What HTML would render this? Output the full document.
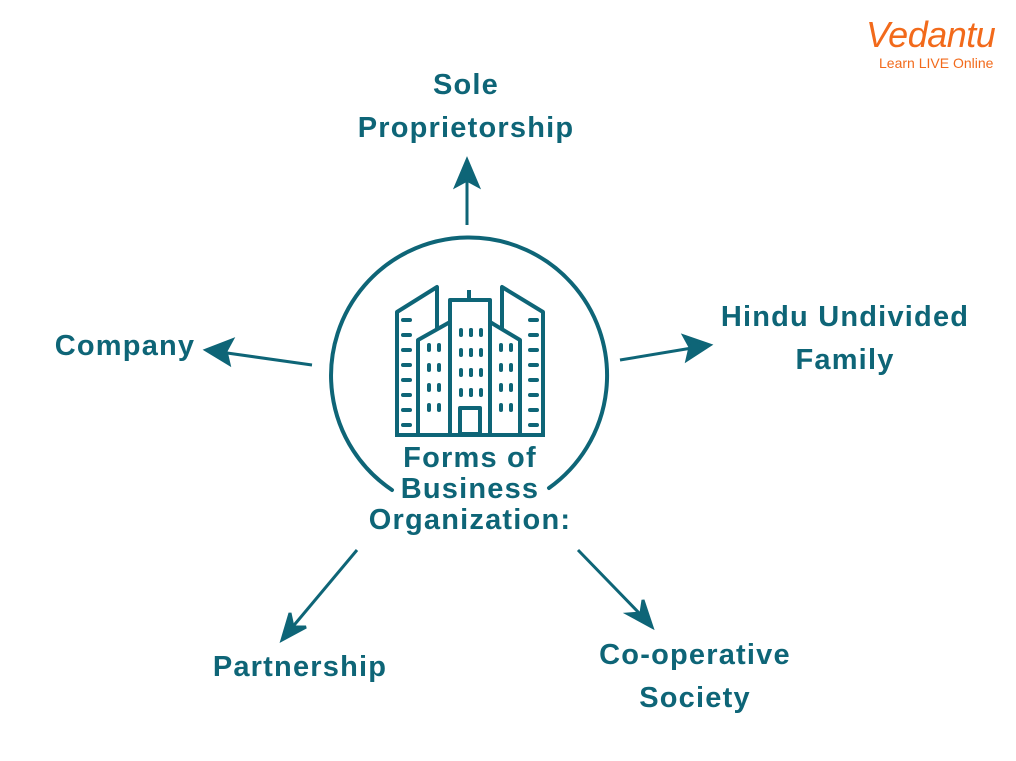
<!DOCTYPE html>
<html><head><style>
body{margin:0;background:#fff;width:1016px;height:761px;overflow:hidden;position:relative;font-family:"Liberation Sans",sans-serif}
.t{position:absolute;color:#0e6577;font-weight:bold;font-size:29px;text-align:center;line-height:43px;white-space:nowrap;letter-spacing:1.2px}
</style></head><body>
<svg width="1016" height="761" style="position:absolute;left:0;top:0">
<g stroke="#0e6577" fill="none" stroke-width="4" stroke-linecap="round">
<path d="M392,490 A138,138 0 1 1 549,488"/>
</g>
<g stroke="#0e6577" stroke-width="3" fill="#0e6577">
<line x1="467" y1="225" x2="467" y2="170"/><path d="M467,160 L456,186 L467,180 L478,186Z"/>
<line x1="312" y1="365" x2="220" y2="352"/><path d="M206,350 L232,340 L226,351 L229,364Z"/>
<line x1="620" y1="360" x2="698" y2="347"/><path d="M710,345 L684,336 L690,347 L687,360Z"/>
<line x1="357" y1="550" x2="290" y2="630"/><path d="M282,640 L290,613 L293,627 L306,627Z"/>
<line x1="578" y1="550" x2="643" y2="617"/><path d="M652,627 L628,614 L641,613 L643,600Z"/>
</g>
<g stroke="#0e6577" fill="none" stroke-width="4" stroke-linejoin="round">
<path d="M397,433 V312 L437,287 V330"/>
<path d="M543,433 V312 L502,287 V330"/>
<path d="M418,433 V340 L450,322 V300 H490 V322 L520,340 V433"/>
<line x1="395" y1="435" x2="545" y2="435"/>
<line x1="450" y1="322" x2="450" y2="433"/><line x1="490" y1="322" x2="490" y2="433"/>
<line x1="469" y1="290" x2="469" y2="300"/>
<rect x="460" y="408" width="20" height="26"/>
</g>
<g stroke="#0e6577" stroke-width="4" stroke-linecap="round">
<g id="w"><line x1="429" y1="345" x2="429" y2="350"/><line x1="439" y1="345" x2="439" y2="350"/><line x1="429" y1="365" x2="429" y2="370"/><line x1="439" y1="365" x2="439" y2="370"/><line x1="429" y1="385" x2="429" y2="390"/><line x1="439" y1="385" x2="439" y2="390"/><line x1="429" y1="405" x2="429" y2="410"/><line x1="439" y1="405" x2="439" y2="410"/></g>
<use href="#w" x="72"/>
<use href="#w" x="32" y="-15"/><use href="#w" x="42" y="-15"/>
<g id="s"><line x1="403" y1="320" x2="410" y2="320"/><line x1="403" y1="335" x2="410" y2="335"/><line x1="403" y1="350" x2="410" y2="350"/><line x1="403" y1="365" x2="410" y2="365"/><line x1="403" y1="380" x2="410" y2="380"/><line x1="403" y1="395" x2="410" y2="395"/><line x1="403" y1="410" x2="410" y2="410"/><line x1="403" y1="425" x2="410" y2="425"/></g>
<use href="#s" x="127"/>
</g>
</svg>
<div class="t" style="left:336px;top:64px;width:260px">Sole<br>Proprietorship</div>
<div class="t" style="left:40px;top:325px;width:170px">Company</div>
<div class="t" style="left:700px;top:296px;width:290px">Hindu Undivided<br>Family</div>
<div class="t" style="left:340px;top:443px;width:260px;line-height:31px">Forms of<br>Business<br>Organization:</div>
<div class="t" style="left:190px;top:646px;width:220px">Partnership</div>
<div class="t" style="left:580px;top:634px;width:230px">Co-operative<br>Society</div>
<div style="position:absolute;left:866px;top:14px;color:#f26a1b;font-size:36px;font-style:italic;letter-spacing:-0.5px">Vedantu</div>
<div style="position:absolute;left:879px;top:55px;color:#f26a1b;font-size:14px">Learn LIVE Online</div>
</body></html>
